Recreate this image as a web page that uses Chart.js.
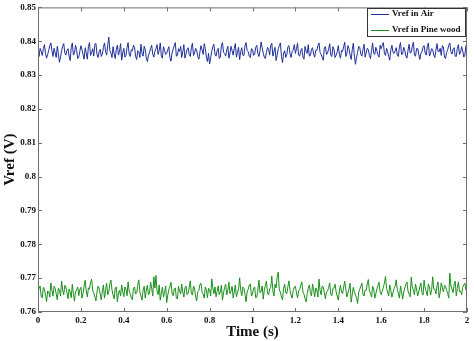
<!DOCTYPE html>
<html>
<head>
<meta charset="utf-8">
<script src="https://cdn.jsdelivr.net/npm/chart.js@4"></script>
<style>
  html, body { margin: 0; padding: 0; background: #fff; }
</style>
</head>
<body>
<canvas id="myChart" width="474" height="341"></canvas>
<script>
// Vref samples, one every 5 ms from 0 to 2 s (10 per row = 0.05 s)
const vrefAir = [
    0.8369, 0.8355, 0.8379, 0.8370, 0.8358, 0.8378, 0.8390, 0.8364, 0.8350, 0.8361,
    0.8373, 0.8387, 0.8395, 0.8372, 0.8355, 0.8379, 0.8365, 0.8352, 0.8385, 0.8362,
    0.8338, 0.8353, 0.8372, 0.8385, 0.8393, 0.8365, 0.8359, 0.8373, 0.8378, 0.8356,
    0.8343, 0.8382, 0.8395, 0.8359, 0.8364, 0.8388, 0.8375, 0.8349, 0.8353, 0.8370,
    0.8387, 0.8375, 0.8361, 0.8347, 0.8381, 0.8365, 0.8347, 0.8384, 0.8396, 0.8358,
    0.8367, 0.8378, 0.8356, 0.8391, 0.8394, 0.8361, 0.8352, 0.8369, 0.8376, 0.8355,
    0.8362, 0.8382, 0.8395, 0.8370, 0.8359, 0.8387, 0.8412, 0.8373, 0.8365, 0.8352,
    0.8384, 0.8364, 0.8349, 0.8376, 0.8388, 0.8359, 0.8370, 0.8393, 0.8344, 0.8365,
    0.8379, 0.8353, 0.8358, 0.8381, 0.8396, 0.8362, 0.8355, 0.8375, 0.8372, 0.8388,
    0.8382, 0.8356, 0.8346, 0.8372, 0.8369, 0.8352, 0.8391, 0.8364, 0.8356, 0.8385,
    0.8375, 0.8350, 0.8340, 0.8359, 0.8367, 0.8379, 0.8388, 0.8362, 0.8353, 0.8370,
    0.8378, 0.8390, 0.8361, 0.8373, 0.8395, 0.8356, 0.8350, 0.8384, 0.8373, 0.8361,
    0.8364, 0.8375, 0.8384, 0.8352, 0.8341, 0.8365, 0.8376, 0.8387, 0.8396, 0.8356,
    0.8358, 0.8378, 0.8370, 0.8385, 0.8352, 0.8369, 0.8390, 0.8350, 0.8362, 0.8376,
    0.8381, 0.8361, 0.8355, 0.8382, 0.8394, 0.8358, 0.8365, 0.8379, 0.8373, 0.8355,
    0.8347, 0.8369, 0.8387, 0.8375, 0.8361, 0.8393, 0.8378, 0.8353, 0.8340, 0.8364,
    0.8333, 0.8352, 0.8370, 0.8384, 0.8391, 0.8362, 0.8356, 0.8372, 0.8379, 0.8349,
    0.8353, 0.8388, 0.8396, 0.8367, 0.8364, 0.8356, 0.8375, 0.8385, 0.8350, 0.8365,
    0.8385, 0.8372, 0.8359, 0.8379, 0.8393, 0.8353, 0.8367, 0.8382, 0.8346, 0.8369,
    0.8381, 0.8359, 0.8358, 0.8387, 0.8396, 0.8373, 0.8369, 0.8355, 0.8352, 0.8378,
    0.8376, 0.8358, 0.8362, 0.8382, 0.8388, 0.8364, 0.8355, 0.8372, 0.8398, 0.8381,
    0.8365, 0.8353, 0.8349, 0.8367, 0.8382, 0.8376, 0.8359, 0.8388, 0.8394, 0.8356,
    0.8369, 0.8382, 0.8343, 0.8359, 0.8378, 0.8387, 0.8395, 0.8355, 0.8337, 0.8365,
    0.8372, 0.8352, 0.8361, 0.8384, 0.8387, 0.8362, 0.8352, 0.8370, 0.8375, 0.8390,
    0.8364, 0.8378, 0.8394, 0.8359, 0.8356, 0.8372, 0.8379, 0.8353, 0.8347, 0.8385,
    0.8370, 0.8364, 0.8390, 0.8356, 0.8358, 0.8376, 0.8381, 0.8362, 0.8353, 0.8373,
    0.8373, 0.8387, 0.8395, 0.8367, 0.8361, 0.8352, 0.8344, 0.8381, 0.8384, 0.8361,
    0.8365, 0.8378, 0.8393, 0.8358, 0.8355, 0.8384, 0.8376, 0.8352, 0.8359, 0.8369,
    0.8387, 0.8361, 0.8350, 0.8373, 0.8370, 0.8384, 0.8397, 0.8355, 0.8362, 0.8387,
    0.8378, 0.8359, 0.8346, 0.8375, 0.8394, 0.8356, 0.8332, 0.8353, 0.8367, 0.8385,
    0.8382, 0.8362, 0.8356, 0.8375, 0.8391, 0.8353, 0.8365, 0.8379, 0.8375, 0.8358,
    0.8349, 0.8372, 0.8395, 0.8365, 0.8361, 0.8382, 0.8372, 0.8359, 0.8353, 0.8388,
    0.8378, 0.8388, 0.8396, 0.8364, 0.8358, 0.8379, 0.8369, 0.8355, 0.8344, 0.8375,
    0.8388, 0.8367, 0.8364, 0.8372, 0.8381, 0.8359, 0.8355, 0.8384, 0.8396, 0.8361,
    0.8362, 0.8382, 0.8373, 0.8356, 0.8350, 0.8373, 0.8391, 0.8365, 0.8367, 0.8385,
    0.8397, 0.8359, 0.8356, 0.8378, 0.8379, 0.8362, 0.8346, 0.8364, 0.8370, 0.8382,
    0.8387, 0.8365, 0.8359, 0.8385, 0.8395, 0.8356, 0.8365, 0.8378, 0.8376, 0.8359,
    0.8352, 0.8373, 0.8393, 0.8370, 0.8369, 0.8379, 0.8358, 0.8387, 0.8384, 0.8353,
    0.8349, 0.8367, 0.8375, 0.8388, 0.8395, 0.8369, 0.8362, 0.8376, 0.8381, 0.8356,
    0.8355, 0.8379, 0.8390, 0.8361, 0.8367, 0.8384, 0.8372, 0.8353, 0.8359, 0.8387,
    0.8378
];
const vrefPine = [
    0.7656, 0.7670, 0.7677, 0.7645, 0.7642, 0.7673, 0.7667, 0.7650, 0.7631, 0.7662,
    0.7660, 0.7644, 0.7686, 0.7664, 0.7647, 0.7676, 0.7670, 0.7653, 0.7636, 0.7671,
    0.7664, 0.7647, 0.7691, 0.7665, 0.7651, 0.7679, 0.7674, 0.7657, 0.7639, 0.7668,
    0.7659, 0.7642, 0.7682, 0.7654, 0.7632, 0.7660, 0.7665, 0.7674, 0.7648, 0.7667,
    0.7673, 0.7641, 0.7654, 0.7677, 0.7694, 0.7662, 0.7644, 0.7671, 0.7668, 0.7688,
    0.7697, 0.7664, 0.7657, 0.7645, 0.7633, 0.7659, 0.7676, 0.7670, 0.7653, 0.7636,
    0.7662, 0.7680, 0.7641, 0.7664, 0.7685, 0.7651, 0.7659, 0.7683, 0.7694, 0.7665,
    0.7650, 0.7639, 0.7671, 0.7674, 0.7630, 0.7656, 0.7664, 0.7647, 0.7680, 0.7660,
    0.7645, 0.7674, 0.7668, 0.7648, 0.7689, 0.7662, 0.7654, 0.7642, 0.7636, 0.7670,
    0.7674, 0.7653, 0.7657, 0.7679, 0.7695, 0.7659, 0.7647, 0.7635, 0.7665, 0.7676,
    0.7641, 0.7665, 0.7679, 0.7651, 0.7656, 0.7688, 0.7670, 0.7647, 0.7704, 0.7671,
    0.7708, 0.7662, 0.7651, 0.7680, 0.7635, 0.7656, 0.7673, 0.7644, 0.7660, 0.7677,
    0.7628, 0.7650, 0.7667, 0.7674, 0.7688, 0.7656, 0.7648, 0.7668, 0.7671, 0.7642,
    0.7638, 0.7676, 0.7662, 0.7653, 0.7683, 0.7659, 0.7644, 0.7671, 0.7676, 0.7651,
    0.7656, 0.7673, 0.7692, 0.7654, 0.7650, 0.7677, 0.7668, 0.7644, 0.7633, 0.7660,
    0.7664, 0.7682, 0.7685, 0.7657, 0.7653, 0.7641, 0.7674, 0.7665, 0.7642, 0.7670,
    0.7665, 0.7647, 0.7698, 0.7671, 0.7654, 0.7674, 0.7645, 0.7660, 0.7677, 0.7651,
    0.7659, 0.7679, 0.7635, 0.7656, 0.7673, 0.7682, 0.7651, 0.7664, 0.7688, 0.7654,
    0.7662, 0.7676, 0.7641, 0.7659, 0.7680, 0.7645, 0.7657, 0.7668, 0.7701, 0.7665,
    0.7648, 0.7674, 0.7670, 0.7653, 0.7630, 0.7659, 0.7667, 0.7680, 0.7683, 0.7647,
    0.7653, 0.7670, 0.7674, 0.7642, 0.7644, 0.7665, 0.7694, 0.7657, 0.7660, 0.7677,
    0.7638, 0.7664, 0.7679, 0.7691, 0.7656, 0.7650, 0.7668, 0.7673, 0.7706, 0.7662,
    0.7647, 0.7682, 0.7671, 0.7704, 0.7718, 0.7665, 0.7659, 0.7644, 0.7636, 0.7670,
    0.7682, 0.7657, 0.7654, 0.7676, 0.7692, 0.7664, 0.7650, 0.7641, 0.7664, 0.7674,
    0.7676, 0.7656, 0.7642, 0.7662, 0.7667, 0.7679, 0.7689, 0.7659, 0.7653, 0.7639,
    0.7630, 0.7654, 0.7670, 0.7680, 0.7657, 0.7647, 0.7683, 0.7665, 0.7645, 0.7671,
    0.7665, 0.7644, 0.7697, 0.7664, 0.7651, 0.7677, 0.7674, 0.7656, 0.7639, 0.7660,
    0.7662, 0.7673, 0.7686, 0.7653, 0.7648, 0.7670, 0.7671, 0.7682, 0.7659, 0.7647,
    0.7635, 0.7662, 0.7679, 0.7659, 0.7654, 0.7674, 0.7691, 0.7667, 0.7645, 0.7656,
    0.7668, 0.7685, 0.7629, 0.7651, 0.7673, 0.7660, 0.7650, 0.7642, 0.7625, 0.7657,
    0.7667, 0.7676, 0.7685, 0.7653, 0.7647, 0.7665, 0.7664, 0.7682, 0.7696, 0.7662,
    0.7656, 0.7644, 0.7676, 0.7668, 0.7641, 0.7654, 0.7668, 0.7679, 0.7688, 0.7659,
    0.7651, 0.7662, 0.7673, 0.7685, 0.7705, 0.7670, 0.7659, 0.7648, 0.7680, 0.7664,
    0.7644, 0.7657, 0.7670, 0.7676, 0.7695, 0.7667, 0.7654, 0.7641, 0.7677, 0.7660,
    0.7638, 0.7659, 0.7671, 0.7682, 0.7689, 0.7662, 0.7653, 0.7645, 0.7703, 0.7674,
    0.7664, 0.7651, 0.7682, 0.7668, 0.7647, 0.7660, 0.7674, 0.7686, 0.7657, 0.7650,
    0.7694, 0.7671, 0.7660, 0.7648, 0.7683, 0.7674, 0.7650, 0.7664, 0.7704, 0.7668,
    0.7667, 0.7654, 0.7677, 0.7689, 0.7642, 0.7659, 0.7686, 0.7673, 0.7659, 0.7679,
    0.7676, 0.7664, 0.7654, 0.7641, 0.7715, 0.7677, 0.7668, 0.7657, 0.7682, 0.7691,
    0.7648, 0.7670, 0.7689, 0.7660, 0.7662, 0.7651, 0.7673, 0.7680, 0.7685, 0.7665,
    0.7671
];
const seriesNames = ['Vref in Air', 'Vref in Pine wood'];
const seriesColors = ['#1f2f9a', '#1a901c'];
const timeStep = 0.005;

const serif = '"Liberation Serif", "Times New Roman", serif';
const toPoints = arr => arr.map((v, i) => ({ x: +(i * timeStep).toFixed(3), y: v }));
const trimZeros = v => String(+(+v).toFixed(2));

// box around the plot with short inward ticks, plus the legend
const frame = {
    id: 'frame',
    afterDraw(chart) {
        const { ctx, chartArea: a, scales: { x, y } } = chart;
        ctx.save();
        ctx.strokeStyle = '#6e6e6e';
        ctx.lineWidth = 1;
        ctx.strokeRect(a.left + 0.5, a.top + 0.5, a.right - a.left - 1, a.bottom - a.top - 1);
        ctx.beginPath();
        x.ticks.forEach(t => {
            const px = Math.round(x.getPixelForValue(t.value)) + 0.5;
            ctx.moveTo(px, a.bottom); ctx.lineTo(px, a.bottom - 4);
            ctx.moveTo(px, a.top); ctx.lineTo(px, a.top + 4);
        });
        y.ticks.forEach(t => {
            const py = Math.round(y.getPixelForValue(t.value)) + 0.5;
            ctx.moveTo(a.left, py); ctx.lineTo(a.left + 4, py);
            ctx.moveTo(a.right, py); ctx.lineTo(a.right - 4, py);
        });
        ctx.stroke();

        // legend
        const bx = 367, by = 8, bw = 98, bh = 28;
        ctx.fillStyle = '#fff';
        ctx.fillRect(bx, by, bw, bh);
        ctx.strokeStyle = '#333';
        ctx.strokeRect(bx + 0.5, by + 0.5, bw, bh);
        ctx.font = 'bold 9px ' + serif;
        ctx.textBaseline = 'middle';
        seriesNames.forEach((name, i) => {
            const ly = by + 6 + i * 16;
            ctx.strokeStyle = seriesColors[i];
            ctx.beginPath();
            ctx.moveTo(371, ly + 0.5); ctx.lineTo(389, ly + 0.5);
            ctx.stroke();
            ctx.fillStyle = '#111';
            ctx.fillText(name, 392, ly);
        });
        ctx.restore();
    }
};

new Chart(document.getElementById('myChart'), {
    type: 'line',
    data: {
        datasets: [{
            label: seriesNames[0],
            data: toPoints(vrefAir),
            borderColor: seriesColors[0],
            borderWidth: 1,
            pointRadius: 0
        }, {
            label: seriesNames[1],
            data: toPoints(vrefPine),
            borderColor: seriesColors[1],
            borderWidth: 1,
            pointRadius: 0
        }]
    },
    options: {
        responsive: false,
        animation: false,
        layout: { padding: { top: 6, right: 7, left: 0, bottom: 0 } },
        plugins: {
            legend: { display: false },
            tooltip: { enabled: false }
        },
        scales: {
            x: {
                type: 'linear',
                min: 0,
                max: 2,
                afterFit: s => { s.height = 29; },
                grid: { display: false, drawTicks: false },
                border: { display: false },
                ticks: {
                    stepSize: 0.2,
                    autoSkip: false,
                    maxRotation: 0,
                    padding: 3,
                    color: '#111',
                    callback: trimZeros,
                    font: { family: serif, size: 9, weight: 'bold' }
                },
                title: {
                    display: true,
                    text: 'Time (s)',
                    color: '#111',
                    padding: 0,
                    font: { family: serif, size: 15, weight: 'bold' }
                }
            },
            y: {
                min: 0.76,
                max: 0.85,
                afterFit: s => { s.width = 38; },
                grid: { display: false, drawTicks: false },
                border: { display: false },
                ticks: {
                    stepSize: 0.01,
                    padding: 2,
                    color: '#111',
                    callback: trimZeros,
                    font: { family: serif, size: 9, weight: 'bold' }
                },
                title: {
                    display: true,
                    text: 'Vref (V)',
                    color: '#111',
                    padding: { top: 1, bottom: 0 },
                    font: { family: serif, size: 15, weight: 'bold' }
                }
            }
        }
    },
    plugins: [frame]
});
</script>
</body>
</html>
